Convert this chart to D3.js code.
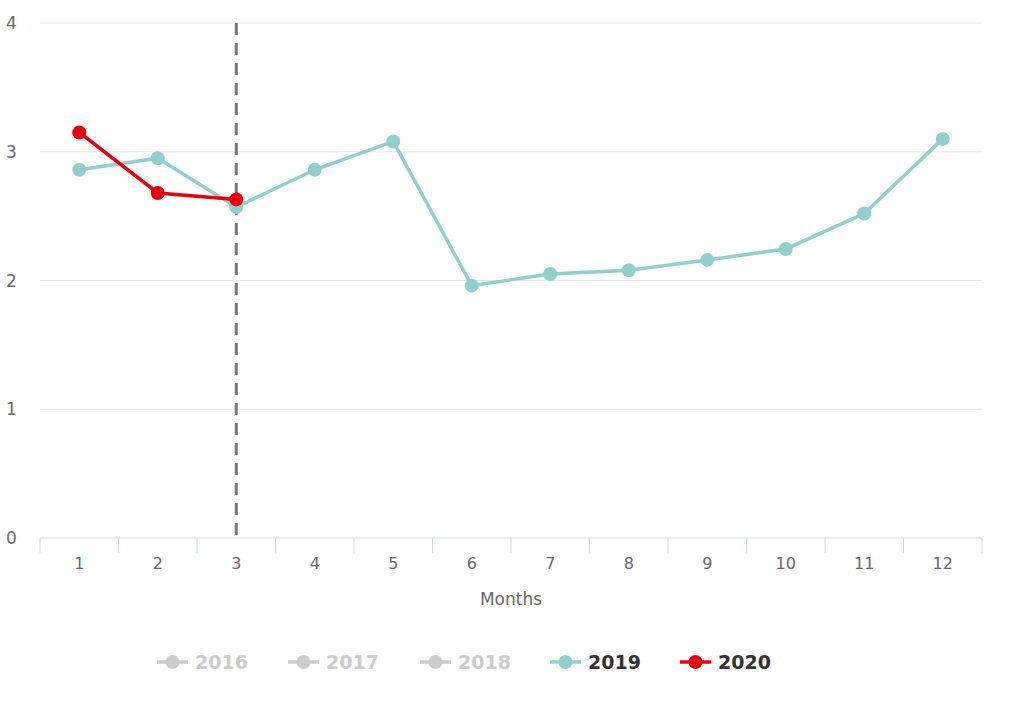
<!DOCTYPE html>
<html>
<head>
<meta charset="utf-8">
<script src="https://cdn.jsdelivr.net/npm/d3@7"></script>
<style>
  body { margin: 0; background: #fff; font-family: "DejaVu Sans", sans-serif; }
  svg text { font-family: "DejaVu Sans", sans-serif; }
</style>
</head>
<body>
<div id="chart"></div>
<script>
const months = ['1', '2', '3', '4', '5', '6', '7', '8', '9', '10', '11', '12'];
const yTicks = [0, 1, 2, 3, 4];
const values2019 = [2.86, 2.95, 2.57, 2.86, 3.08, 1.96, 2.05, 2.08, 2.16, 2.245, 2.52, 3.10];
const values2020 = [3.15, 2.68, 2.63];
const legendYears = ['2016', '2017', '2018', '2019', '2020'];
const legendColors = ['#cccccc', '#cccccc', '#cccccc', '#8fd0ce', '#e8000b'];
const legendActive = [false, false, false, true, true];
const markerMonth = '3';

const width = 1024;
const height = 714;
const margin = { top: 23, right: 42, bottom: 176, left: 40 };

const svg = d3.select('#chart')
  .append('svg')
  .attr('width', width)
  .attr('height', height);

const x = d3.scaleBand()
  .domain(months)
  .range([margin.left, width - margin.right]);

const y = d3.scaleLinear()
  .domain([0, 4])
  .range([height - margin.bottom, margin.top]);

// gridlines
svg.append('g')
  .selectAll('line')
  .data(yTicks.filter(d => d > 0))
  .enter()
  .append('line')
  .attr('x1', margin.left)
  .attr('x2', width - margin.right)
  .attr('y1', d => y(d))
  .attr('y2', d => y(d))
  .attr('stroke', '#e6e6e6')
  .attr('stroke-width', 1);

// y labels
svg.append('g')
  .selectAll('text')
  .data(yTicks)
  .enter()
  .append('text')
  .attr('x', 6)
  .attr('y', d => y(d) + 6)
  .attr('fill', '#666')
  .style('font-size', '17px')
  .text(d => d);

// x axis
const xAxis = d3.axisBottom(x)
  .tickSize(0)
  .tickPadding(20);

const gx = svg.append('g')
  .attr('transform', `translate(0,${y(0)})`)
  .call(xAxis);
gx.select('.domain').attr('stroke', '#ccd6eb').attr('d', `M${margin.left},0H${width - margin.right}`);
gx.selectAll('text')
  .attr('fill', '#666')
  .style('font-size', '16px');

// tick marks at band edges
const edges = months.map(m => x(m)).concat([x(months[months.length - 1]) + x.bandwidth()]);
gx.append('g')
  .selectAll('line')
  .data(edges)
  .enter()
  .append('line')
  .attr('x1', d => d)
  .attr('x2', d => d)
  .attr('y1', 0)
  .attr('y2', 15)
  .attr('stroke', '#ccd6eb');

svg.append('text')
  .attr('x', (margin.left + width - margin.right) / 2)
  .attr('y', 605)
  .attr('text-anchor', 'middle')
  .attr('fill', '#666')
  .style('font-size', '17px')
  .text('Months');

// dashed marker line
const xm = x(markerMonth) + x.bandwidth() / 2;
svg.append('line')
  .attr('x1', xm)
  .attr('x2', xm)
  .attr('y1', y(4))
  .attr('y2', y(0))
  .attr('stroke', '#777')
  .attr('stroke-width', 3)
  .attr('stroke-dasharray', '12,8');

const line = d3.line()
  .x((d, i) => x(months[i]) + x.bandwidth() / 2)
  .y(d => y(d));

function drawSeries(data, color) {
  const g = svg.append('g');
  g.append('path')
    .datum(data)
    .attr('d', line)
    .attr('fill', 'none')
    .attr('stroke', color)
    .attr('stroke-width', 3.5);
  g.selectAll('circle')
    .data(data)
    .enter()
    .append('circle')
    .attr('cx', (d, i) => x(months[i]) + x.bandwidth() / 2)
    .attr('cy', d => y(d))
    .attr('r', 7)
    .attr('fill', color);
}

drawSeries(values2019, '#8fd0ce');
drawSeries(values2020, '#e8000b');

// legend
const legendX = [157, 288, 420, 550, 680];
const legend = svg.append('g')
  .selectAll('g')
  .data(legendYears)
  .enter()
  .append('g')
  .attr('transform', (d, i) => `translate(${legendX[i]},662)`);

legend.append('line')
  .attr('x1', 0)
  .attr('x2', 31)
  .attr('stroke', (d, i) => legendColors[i])
  .attr('stroke-width', 3.5);

legend.append('circle')
  .attr('cx', 15.5)
  .attr('r', 7)
  .attr('fill', (d, i) => legendColors[i]);

legend.append('text')
  .attr('x', 38)
  .attr('y', 7)
  .attr('fill', (d, i) => legendActive[i] ? '#333' : '#cccccc')
  .style('font-size', '19px')
  .style('font-weight', 'bold')
  .text(d => d);
</script>
</body>
</html>
